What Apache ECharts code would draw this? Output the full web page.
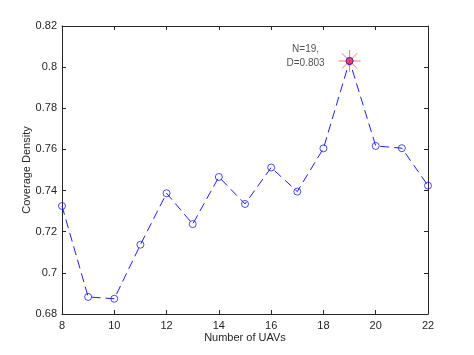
<!DOCTYPE html>
<html>
<head>
<meta charset="utf-8">
<script src="https://cdn.jsdelivr.net/npm/echarts@6/dist/echarts.min.js"></script>
<style>
  html, body { margin: 0; padding: 0; background: #fff; }
  #chart { width: 474px; height: 355px; }
</style>
</head>
<body>
<div id="chart"></div>
<script>
// number of UAVs and coverage density
var uavs = [8, 9, 10, 11, 12, 13, 14, 15, 16, 17, 18, 19, 20, 21, 22];
var density = [0.7325, 0.6883, 0.6874, 0.7137, 0.7387, 0.7237, 0.7466, 0.7335,
               0.7512, 0.7395, 0.7605, 0.803, 0.7617, 0.7606, 0.7424];
var best = [19, 0.803];
var bestLabel = 'N=19,\nD=0.803';

var font = 'Liberation Sans, Arial, sans-serif';
var ink = '#262626';
var blue = '#1f1fe0';

var chart = echarts.init(document.getElementById('chart'));

var pts = [];
for (var i = 0; i < uavs.length; i++) {
  pts.push([uavs[i], density[i]]);
}

function baseAxis(show) {
  return {
    axisLine: { show: true, onZero: false, lineStyle: { color: ink, width: 1 } },
    axisTick: { show: true, inside: true, length: 4, lineStyle: { color: ink } },
    axisLabel: { show: show, color: ink, fontFamily: font, fontSize: 11 },
    splitLine: { show: false }
  };
}

var xBottom = baseAxis(true);
xBottom.type = 'value'; xBottom.min = 8; xBottom.max = 22; xBottom.interval = 2;
xBottom.position = 'bottom';
xBottom.axisLabel.margin = 6;
xBottom.name = 'Number of UAVs';
xBottom.nameLocation = 'middle';
xBottom.nameGap = 18;
xBottom.nameMoveOverlap = false;
xBottom.nameTextStyle = { color: ink, fontFamily: font, fontSize: 11 };

var xTop = baseAxis(false);
xTop.type = 'value'; xTop.min = 8; xTop.max = 22; xTop.interval = 2;
xTop.position = 'top';

var yLeft = baseAxis(true);
yLeft.type = 'value'; yLeft.min = 0.68; yLeft.max = 0.82; yLeft.interval = 0.02;
yLeft.position = 'left';
yLeft.axisLabel.margin = 5;
yLeft.axisLabel.formatter = function (v) { return String(parseFloat(v.toFixed(2))); };
yLeft.name = 'Coverage Density';
yLeft.nameLocation = 'middle';
yLeft.nameGap = 30;
yLeft.nameMoveOverlap = false;
yLeft.nameTextStyle = { color: ink, fontFamily: font, fontSize: 11 };

var yRight = baseAxis(false);
yRight.type = 'value'; yRight.min = 0.68; yRight.max = 0.82; yRight.interval = 0.02;
yRight.position = 'right';

var option = {
  backgroundColor: '#fff',
  animation: false,
  grid: { left: 62, top: 26, right: 46, bottom: 41 },
  xAxis: [xBottom, xTop],
  yAxis: [yLeft, yRight],
  series: [
    {
      type: 'line',
      data: pts,
      symbol: 'none',
      clip: false,
      lineStyle: { color: blue, width: 1, type: [9, 5] },
      itemStyle: { color: blue },
      z: 2
    },
    {
      // open circle markers
      type: 'scatter',
      data: pts,
      symbol: 'circle',
      symbolSize: 7,
      clip: false,
      itemStyle: { color: 'rgba(255,255,255,0)', borderColor: blue, borderWidth: 1 },
      z: 3
    },
    {
      type: 'scatter',
      data: [best],
      symbol: 'path://M0 10 L20 10 M10 0 L10 20 M3 3 L17 17 M17 3 L3 17',
      symbolSize: 22,
      itemStyle: { color: 'none', borderColor: '#ec5560', borderWidth: 1 },
      label: {
        show: true,
        position: 'inside',
        offset: [-44, -5],
        formatter: bestLabel,
        color: ink,
        fontFamily: font,
        fontSize: 10,
        lineHeight: 14,
        align: 'center'
      },
      z: 4
    },
    {
      type: 'scatter',
      data: [best],
      symbol: 'circle',
      symbolSize: 7,
      itemStyle: { color: '#e8304a', borderColor: '#5a1a8a', borderWidth: 1 },
      z: 5
    }
  ]
};

chart.setOption(option);
</script>
</body>
</html>
